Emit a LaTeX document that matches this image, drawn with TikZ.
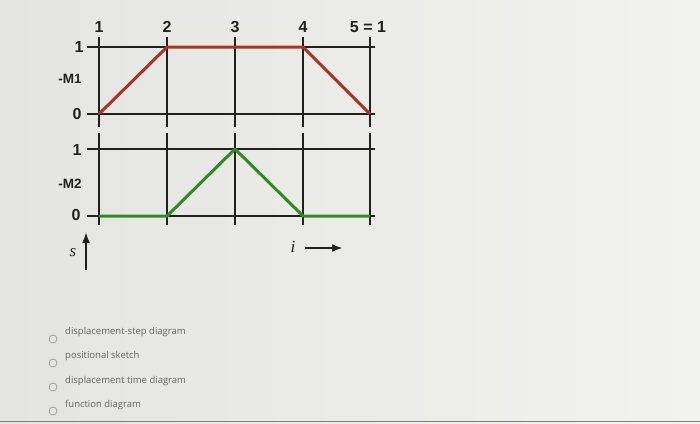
\documentclass[tikz,border=0pt]{standalone}
\usepackage{fontspec}
\setmainfont{Liberation Sans}
\newfontfamily\optfont{Open Sans}
\newfontfamily\varfont{Liberation Serif}
\usetikzlibrary{arrows.meta,positioning}
\definecolor{paperleft}{RGB}{228,228,224}
\definecolor{paperright}{RGB}{242,242,240}
\definecolor{gridblack}{RGB}{32,32,28}
\definecolor{curvered}{RGB}{170,52,36}
\definecolor{curvegreen}{RGB}{48,138,38}
\definecolor{optgray}{RGB}{100,100,98}

\begin{document}
\begin{tikzpicture}[x=1pt,y=-1pt]
    \tikzstyle{grid} = [draw=gridblack, line width=2.5pt]
    \tikzstyle{curve} = [line width=3pt, line join=round]
    \tikzstyle{numlabel} = [font=\bfseries\fontsize{16}{16}\selectfont,
      text=gridblack, inner sep=0pt]
    \tikzstyle{mlabel} = [font=\bfseries\fontsize{13.5}{14}\selectfont,
      text=gridblack, inner sep=0pt]
    \tikzstyle{varlabel} = [font=\varfont\itshape\fontsize{17}{17}\selectfont,
      text=gridblack, inner sep=0pt]
    \tikzstyle{option} = [font=\optfont\fontsize{9.5}{10}\selectfont,
      text=optgray, anchor=west, inner sep=0pt]
    \tikzstyle{radio} = [circle, draw=optgray!60, line width=0.9pt,
      minimum size=8pt, inner sep=0pt]
    \tikzstyle{line} = [draw=gridblack, line width=2.2pt, -{Latex[length=11pt,width=8pt]}]

    % Paper
    \shade[left color=paperleft, right color=paperright] (0,0) rectangle (700,423);
    \useasboundingbox (0,0) rectangle (700,423);
    \draw[gray, line width=1pt] (0,421.5) -- (700,421.5);

    % Grid points of both charts
    \foreach \x [count=\i] in {99,167,235,303,370} {
      \coordinate (a\i) at (\x,47);
      \coordinate (b\i) at (\x,114);
      \coordinate (c\i) at (\x,149);
      \coordinate (d\i) at (\x,216);
      \draw[grid] (\x,37) -- (\x,127);
      \draw[grid] (\x,133) -- (\x,225);
    }
    \foreach \y in {47,114,149,216}
      \draw[grid] (87,\y) -- (375,\y);

    % Step labels
    \node[numlabel] (step1) at (99,27) {1};
    \node[numlabel] (step2) at (167,27) {2};
    \node[numlabel] (step3) at (235,27) {3};
    \node[numlabel] (step4) at (303,27) {4};
    \node[numlabel] (step5) at (368,27) {5 = 1};

    % Displacement labels
    \node[numlabel] (mone-hi) at (79,47) {1};
    \node[mlabel] (mone) at (70,79) {-M1};
    \node[numlabel] (mone-lo) at (77,114) {0};
    \node[numlabel] (mtwo-hi) at (77,150) {1};
    \node[mlabel] (mtwo) at (70,184) {-M2};
    \node[numlabel] (mtwo-lo) at (76,215) {0};

    % Curves
    \draw[curve, curvered] (b1) -- (a2) -- (a4) -- (b5);
    \draw[curve, curvegreen] (d1) -- (d2) -- (c3) -- (d4) -- (d5);

    % Axis names
    \node[varlabel] (sname) at (73,253) {s};
    \coordinate (sfoot) at (86,270);
    \coordinate (shead) at (86,232);
    \draw[line] (sfoot) -- (shead);
    \node[varlabel] (iname) at (293,247) {i};
    \coordinate (ifoot) at (305,248);
    \coordinate (ihead) at (343,248);
    \draw[line] (ifoot) -- (ihead);

    % Answer options
    \node[radio] (r1) at (53,339) {};
    \node[radio] (r2) at (53,363) {};
    \node[radio] (r3) at (53,387) {};
    \node[radio] (r4) at (53,411) {};
    \node[option] (o1) at (65,332) {displacement-step diagram};
    \node[option] (o2) at (65,356) {positional sketch};
    \node[option] (o3) at (65,381) {displacement time diagram};
    \node[option] (o4) at (65,405) {function diagram};

\end{tikzpicture}
\end{document}
